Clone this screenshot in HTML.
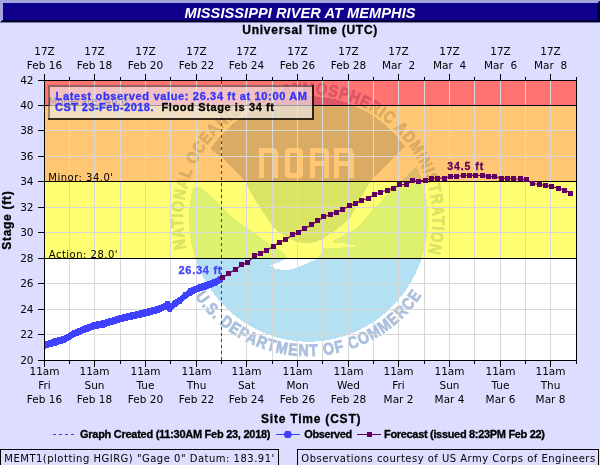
<!DOCTYPE html>
<html><head><meta charset="utf-8"><title>Mississippi River at Memphis</title>
<style>
html,body{margin:0;padding:0;background:#ddddff;}
body{width:600px;height:465px;overflow:hidden;position:relative;}
svg{position:absolute;left:0;top:0;display:block}
.b{font-family:"Liberation Sans",Arial,sans-serif;font-weight:bold;}
.v{font-family:"DejaVu Sans",Verdana,sans-serif;font-size:10.5px;fill:#000;}
</style></head><body>
<svg width="600" height="465" viewBox="0 0 600 465" shape-rendering="crispEdges">

<rect x="0" y="22" width="600" height="1" fill="#7a7aa8"/>
<rect x="0" y="0" width="600" height="22" fill="#000033"/>
<polygon points="0,0 600,0 597,3 3,3 3,20 0,22" fill="#a4a4dc"/>
<rect x="3" y="3" width="594" height="17" fill="#10008c"/>
<text x="184.5" y="17.5" class="b" textLength="231" lengthAdjust="spacing" style="font-style:italic;font-size:14.6px;fill:#fff">MISSISSIPPI RIVER AT MEMPHIS</text>
<text x="242.3" y="33.5" class="b" textLength="135" lengthAdjust="spacing" style="font-size:12px;fill:#000;stroke:#000;stroke-width:0.3">Universal Time (UTC)</text>
<defs><clipPath id="pc"><rect x="45" y="81" width="531" height="279"/></clipPath></defs>
<g clip-path="url(#pc)">
<rect x="45" y="81" width="531" height="279" fill="#fff"/>
<g shape-rendering="crispEdges"><path d="M 192.87,188 L 200.0,186.5 L 211.8,196.7 L 223.6,208.5 L 235.0,219.7 L 250.0,230.0 L 262.0,238.5 L 272.0,245.5 L 280.0,250.0 L 285.0,254.0 L 287.0,258.0 L 280.0,261.5 L 270.0,265.5 L 276.0,268.8 L 284.0,270.4 L 292.0,269.2 L 302.0,265.6 L 311.0,261.6 L 317.0,259.0 L 321.0,254.0 L 323.0,248.5 L 330.0,248.3 L 340.0,247.6 L 358.0,246.3 L 345.0,243.5 L 331.0,242.3 L 334.0,240.3 L 343.3,235.0 L 356.7,228.3 L 370.2,212.7 L 382.3,200.7 L 392.6,185.0 L 402.0,180.5 L 416.3,166.0 A 119.5 122.76001705029837 0 1 1 192.87,188 Z" fill="rgb(180,224,244)"/><mask id="nm"><rect x="0" y="0" width="600" height="465" fill="#fff"/><path d="M259,178 V148 H273 Q278,148 278,153 V178 H273 V153 H264 V178 Z M284.5,153 Q284.5,148 289.5,148 H298 Q303,148 303,153 V173 Q303,178 298,178 H289.5 Q284.5,178 284.5,173 Z M289.5,153 V173 H298 V153 Z M309.5,178 V148 H324 Q329,148 329,153 V178 H324 V166 H314.5 V178 Z M314.5,153 V161 H324 V153 Z M334,178 V148 H348.5 Q353.5,148 353.5,153 V178 H348.5 V166 H339 V178 Z M339,153 V161 H348.5 V153 Z" fill="#000"/></mask><path d="M 210.33,149 L 223.6,158.9 L 235.5,170.7 L 245.0,181.5 L 254.4,199.0 L 263.8,213.3 L 273.3,227.5 L 283.0,235.0 L 290.0,239.0 L 297.0,241.8 L 303.3,243.0 L 310.0,243.0 L 316.7,241.7 L 324.0,238.5 L 330.0,233.7 L 337.0,229.5 L 343.3,224.3 L 350.0,217.7 L 355.5,208.0 L 361.6,197.2 L 370.2,181.7 L 380.0,172.0 L 392.0,159.0 L 405.0,146.6 A 119.5 122.76001705029837 0 0 0 210.33,149 Z" fill="rgb(172,192,222)" mask="url(#nm)"/></g>
<path id="rtop" d="M 186.44,248.52 A 124.9 124.9 0 1 1 425.28,261.73" fill="none"/>
<path id="rbot" d="M 194.79,296.39 A 136.9 136.9 0 0 0 427.13,286.39" fill="none"/>
<g shape-rendering="auto" style="fill:rgb(172,192,222);stroke:rgb(172,192,222);stroke-width:0.8">
<text class="b" style="font-size:16.8px;letter-spacing:1.2px"><textPath href="#rtop" textLength="456.7" lengthAdjust="spacingAndGlyphs">NATIONAL OCEANIC AND ATMOSPHERIC ADMINISTRATION</textPath></text>
<text class="b" style="font-size:16.8px;letter-spacing:1.2px"><textPath href="#rbot" textLength="268.3" lengthAdjust="spacingAndGlyphs">U.S. DEPARTMENT OF COMMERCE</textPath></text>
</g>
<rect x="45" y="81" width="531" height="24" fill="#ff0000" fill-opacity="0.55"/>
<rect x="45" y="106" width="531" height="75" fill="#ff9900" fill-opacity="0.55"/>
<rect x="45" y="182" width="531" height="76" fill="#ffff00" fill-opacity="0.55"/>
</g>
<rect x="69" y="81" width="1" height="279" fill="#d8d8d8"/>
<rect x="94" y="81" width="1" height="279" fill="#d8d8d8"/>
<rect x="120" y="81" width="1" height="279" fill="#d8d8d8"/>
<rect x="145" y="81" width="1" height="279" fill="#d8d8d8"/>
<rect x="170" y="81" width="1" height="279" fill="#d8d8d8"/>
<rect x="196" y="81" width="1" height="279" fill="#d8d8d8"/>
<rect x="221" y="81" width="1" height="279" fill="#d8d8d8"/>
<rect x="246" y="81" width="1" height="279" fill="#d8d8d8"/>
<rect x="272" y="81" width="1" height="279" fill="#d8d8d8"/>
<rect x="297" y="81" width="1" height="279" fill="#d8d8d8"/>
<rect x="322" y="81" width="1" height="279" fill="#d8d8d8"/>
<rect x="348" y="81" width="1" height="279" fill="#d8d8d8"/>
<rect x="373" y="81" width="1" height="279" fill="#d8d8d8"/>
<rect x="398" y="81" width="1" height="279" fill="#d8d8d8"/>
<rect x="424" y="81" width="1" height="279" fill="#d8d8d8"/>
<rect x="449" y="81" width="1" height="279" fill="#d8d8d8"/>
<rect x="474" y="81" width="1" height="279" fill="#d8d8d8"/>
<rect x="500" y="81" width="1" height="279" fill="#d8d8d8"/>
<rect x="525" y="81" width="1" height="279" fill="#d8d8d8"/>
<rect x="550" y="81" width="1" height="279" fill="#d8d8d8"/>
<rect x="45" y="334" width="531" height="1" fill="#d8d8d8"/>
<rect x="45" y="309" width="531" height="1" fill="#d8d8d8"/>
<rect x="45" y="283" width="531" height="1" fill="#d8d8d8"/>
<rect x="45" y="232" width="531" height="1" fill="#d8d8d8"/>
<rect x="45" y="207" width="531" height="1" fill="#d8d8d8"/>
<rect x="45" y="156" width="531" height="1" fill="#d8d8d8"/>
<rect x="45" y="130" width="531" height="1" fill="#d8d8d8"/>
<rect x="44" y="105" width="532" height="1" fill="#000"/>
<rect x="44" y="181" width="532" height="1" fill="#000"/>
<rect x="44" y="258" width="532" height="1" fill="#000"/>
<text x="48.5" y="105" class="v" textLength="82" lengthAdjust="spacing" style="fill:#000;font-size:10px">Moderate:  40.0'</text>
<text x="48.3" y="181" class="v" textLength="64.8" lengthAdjust="spacing" style="fill:#000;font-size:10px">Minor:  34.0'</text>
<text x="48.8" y="258" class="v" textLength="68.8" lengthAdjust="spacing" style="fill:#000;font-size:10px">Action:  28.0'</text>
<line x1="221.5" y1="81" x2="221.5" y2="360" stroke="#3030ff" stroke-width="1" stroke-dasharray="3 3"/>
<polygon points="44.50,341.50 55.20,338.10 64.10,335.60 74.20,329.80 84.20,325.50 94.30,321.90 103.20,320.10 110.00,318.00 120.00,315.00 130.00,312.50 140.00,310.30 150.00,307.80 160.00,305.00 165.00,302.30 167.50,300.80 170.00,304.50 175.00,299.80 180.00,296.30 185.00,292.00 190.00,288.20 195.00,285.70 200.00,284.00 205.00,282.30 210.00,280.50 215.00,278.30 220.30,275.80 220.30,283.40 215.00,285.90 210.00,288.10 205.00,289.90 200.00,291.60 195.00,293.30 190.00,295.80 185.00,299.60 180.00,303.90 175.00,307.40 170.00,312.10 167.50,308.40 165.00,309.90 160.00,312.60 150.00,315.40 140.00,317.90 130.00,320.10 120.00,322.60 110.00,325.60 103.20,327.70 94.30,329.50 84.20,333.10 74.20,337.40 64.10,343.20 55.20,345.70 44.50,349.10" fill="#4040ff" shape-rendering="crispEdges"/>
<polygon points="53.40,338.30 57.00,338.30 58.80,341.90 57.00,345.50 53.40,345.50 51.60,341.90" fill="#4040ff" shape-rendering="crispEdges"/>
<polygon points="62.30,335.80 65.90,335.80 67.70,339.40 65.90,343.00 62.30,343.00 60.50,339.40" fill="#4040ff" shape-rendering="crispEdges"/>
<polygon points="72.40,330.00 76.00,330.00 77.80,333.60 76.00,337.20 72.40,337.20 70.60,333.60" fill="#4040ff" shape-rendering="crispEdges"/>
<polygon points="82.40,325.70 86.00,325.70 87.80,329.30 86.00,332.90 82.40,332.90 80.60,329.30" fill="#4040ff" shape-rendering="crispEdges"/>
<polygon points="92.50,322.10 96.10,322.10 97.90,325.70 96.10,329.30 92.50,329.30 90.70,325.70" fill="#4040ff" shape-rendering="crispEdges"/>
<polygon points="101.40,320.30 105.00,320.30 106.80,323.90 105.00,327.50 101.40,327.50 99.60,323.90" fill="#4040ff" shape-rendering="crispEdges"/>
<polygon points="108.20,318.20 111.80,318.20 113.60,321.80 111.80,325.40 108.20,325.40 106.40,321.80" fill="#4040ff" shape-rendering="crispEdges"/>
<polygon points="118.20,315.20 121.80,315.20 123.60,318.80 121.80,322.40 118.20,322.40 116.40,318.80" fill="#4040ff" shape-rendering="crispEdges"/>
<polygon points="128.20,312.70 131.80,312.70 133.60,316.30 131.80,319.90 128.20,319.90 126.40,316.30" fill="#4040ff" shape-rendering="crispEdges"/>
<polygon points="138.20,310.50 141.80,310.50 143.60,314.10 141.80,317.70 138.20,317.70 136.40,314.10" fill="#4040ff" shape-rendering="crispEdges"/>
<polygon points="148.20,308.00 151.80,308.00 153.60,311.60 151.80,315.20 148.20,315.20 146.40,311.60" fill="#4040ff" shape-rendering="crispEdges"/>
<polygon points="158.20,305.20 161.80,305.20 163.60,308.80 161.80,312.40 158.20,312.40 156.40,308.80" fill="#4040ff" shape-rendering="crispEdges"/>
<polygon points="163.20,302.50 166.80,302.50 168.60,306.10 166.80,309.70 163.20,309.70 161.40,306.10" fill="#4040ff" shape-rendering="crispEdges"/>
<polygon points="165.70,301.00 169.30,301.00 171.10,304.60 169.30,308.20 165.70,308.20 163.90,304.60" fill="#4040ff" shape-rendering="crispEdges"/>
<polygon points="168.20,304.70 171.80,304.70 173.60,308.30 171.80,311.90 168.20,311.90 166.40,308.30" fill="#4040ff" shape-rendering="crispEdges"/>
<polygon points="173.20,300.00 176.80,300.00 178.60,303.60 176.80,307.20 173.20,307.20 171.40,303.60" fill="#4040ff" shape-rendering="crispEdges"/>
<polygon points="178.20,296.50 181.80,296.50 183.60,300.10 181.80,303.70 178.20,303.70 176.40,300.10" fill="#4040ff" shape-rendering="crispEdges"/>
<polygon points="183.20,292.20 186.80,292.20 188.60,295.80 186.80,299.40 183.20,299.40 181.40,295.80" fill="#4040ff" shape-rendering="crispEdges"/>
<polygon points="188.20,288.40 191.80,288.40 193.60,292.00 191.80,295.60 188.20,295.60 186.40,292.00" fill="#4040ff" shape-rendering="crispEdges"/>
<polygon points="193.20,285.90 196.80,285.90 198.60,289.50 196.80,293.10 193.20,293.10 191.40,289.50" fill="#4040ff" shape-rendering="crispEdges"/>
<polygon points="198.20,284.20 201.80,284.20 203.60,287.80 201.80,291.40 198.20,291.40 196.40,287.80" fill="#4040ff" shape-rendering="crispEdges"/>
<polygon points="203.20,282.50 206.80,282.50 208.60,286.10 206.80,289.70 203.20,289.70 201.40,286.10" fill="#4040ff" shape-rendering="crispEdges"/>
<polygon points="208.20,280.70 211.80,280.70 213.60,284.30 211.80,287.90 208.20,287.90 206.40,284.30" fill="#4040ff" shape-rendering="crispEdges"/>
<polygon points="213.20,278.50 216.80,278.50 218.60,282.10 216.80,285.70 213.20,285.70 211.40,282.10" fill="#4040ff" shape-rendering="crispEdges"/>
<polygon points="218.50,276.00 222.10,276.00 223.90,279.60 222.10,283.20 218.50,283.20 216.70,279.60" fill="#4040ff" shape-rendering="crispEdges"/>
<polyline points="222.89,277.50 229.22,273.30 235.56,269.20 241.89,265.00 248.22,262.00 254.56,255.80 260.89,253.30 267.22,250.00 273.56,246.20 279.89,242.00 286.22,239.20 292.56,235.00 298.89,232.00 305.22,228.30 311.56,225.00 317.89,220.80 324.22,217.00 330.56,214.20 336.89,212.00 343.22,209.20 349.56,205.80 355.89,203.30 362.22,200.30 368.56,198.30 374.89,194.20 381.22,192.00 387.56,190.00 393.89,188.00 400.22,185.00 406.56,184.20 412.89,180.80 419.22,181.20 425.56,180.00 431.89,178.70 438.22,178.00 444.56,178.30 450.89,176.30 457.22,176.30 463.56,175.30 469.89,175.30 476.22,175.30 482.56,175.30 488.89,176.60 495.22,176.60 501.56,178.40 507.89,178.40 514.22,179.00 520.56,179.00 526.89,179.90 533.22,183.60 539.56,184.50 545.89,185.40 552.22,186.70 558.56,188.50 564.89,190.00 571.22,193.50" fill="none" stroke="#620062" stroke-width="1.2" shape-rendering="auto"/>
<rect x="220" y="275" width="5" height="5" fill="#620062"/>
<rect x="226" y="271" width="5" height="5" fill="#620062"/>
<rect x="233" y="267" width="5" height="5" fill="#620062"/>
<rect x="239" y="262" width="5" height="5" fill="#620062"/>
<rect x="245" y="260" width="5" height="5" fill="#620062"/>
<rect x="252" y="253" width="5" height="5" fill="#620062"/>
<rect x="258" y="251" width="5" height="5" fill="#620062"/>
<rect x="264" y="248" width="5" height="5" fill="#620062"/>
<rect x="271" y="244" width="5" height="5" fill="#620062"/>
<rect x="277" y="240" width="5" height="5" fill="#620062"/>
<rect x="283" y="237" width="5" height="5" fill="#620062"/>
<rect x="290" y="232" width="5" height="5" fill="#620062"/>
<rect x="296" y="230" width="5" height="5" fill="#620062"/>
<rect x="302" y="226" width="5" height="5" fill="#620062"/>
<rect x="309" y="222" width="5" height="5" fill="#620062"/>
<rect x="315" y="218" width="5" height="5" fill="#620062"/>
<rect x="321" y="214" width="5" height="5" fill="#620062"/>
<rect x="328" y="212" width="5" height="5" fill="#620062"/>
<rect x="334" y="210" width="5" height="5" fill="#620062"/>
<rect x="340" y="207" width="5" height="5" fill="#620062"/>
<rect x="347" y="203" width="5" height="5" fill="#620062"/>
<rect x="353" y="201" width="5" height="5" fill="#620062"/>
<rect x="359" y="198" width="5" height="5" fill="#620062"/>
<rect x="366" y="196" width="5" height="5" fill="#620062"/>
<rect x="372" y="192" width="5" height="5" fill="#620062"/>
<rect x="378" y="190" width="5" height="5" fill="#620062"/>
<rect x="385" y="188" width="5" height="5" fill="#620062"/>
<rect x="391" y="186" width="5" height="5" fill="#620062"/>
<rect x="397" y="182" width="5" height="5" fill="#620062"/>
<rect x="404" y="182" width="5" height="5" fill="#620062"/>
<rect x="410" y="178" width="5" height="5" fill="#620062"/>
<rect x="416" y="179" width="5" height="5" fill="#620062"/>
<rect x="423" y="178" width="5" height="5" fill="#620062"/>
<rect x="429" y="176" width="5" height="5" fill="#620062"/>
<rect x="435" y="176" width="5" height="5" fill="#620062"/>
<rect x="442" y="176" width="5" height="5" fill="#620062"/>
<rect x="448" y="174" width="5" height="5" fill="#620062"/>
<rect x="454" y="174" width="5" height="5" fill="#620062"/>
<rect x="461" y="173" width="5" height="5" fill="#620062"/>
<rect x="467" y="173" width="5" height="5" fill="#620062"/>
<rect x="473" y="173" width="5" height="5" fill="#620062"/>
<rect x="480" y="173" width="5" height="5" fill="#620062"/>
<rect x="486" y="174" width="5" height="5" fill="#620062"/>
<rect x="492" y="174" width="5" height="5" fill="#620062"/>
<rect x="499" y="176" width="5" height="5" fill="#620062"/>
<rect x="505" y="176" width="5" height="5" fill="#620062"/>
<rect x="511" y="176" width="5" height="5" fill="#620062"/>
<rect x="518" y="176" width="5" height="5" fill="#620062"/>
<rect x="524" y="177" width="5" height="5" fill="#620062"/>
<rect x="530" y="181" width="5" height="5" fill="#620062"/>
<rect x="537" y="182" width="5" height="5" fill="#620062"/>
<rect x="543" y="183" width="5" height="5" fill="#620062"/>
<rect x="549" y="184" width="5" height="5" fill="#620062"/>
<rect x="556" y="186" width="5" height="5" fill="#620062"/>
<rect x="562" y="188" width="5" height="5" fill="#620062"/>
<rect x="568" y="191" width="5" height="5" fill="#620062"/>
<text x="178.5" y="273.8" class="b" textLength="43" lengthAdjust="spacing" style="font-size:11px;fill:#4444ff;stroke:#4444ff;stroke-width:0.3">26.34 ft</text>
<text x="447.2" y="169.5" class="b" textLength="36" lengthAdjust="spacing" style="font-size:10.5px;fill:#620062;stroke:#620062;stroke-width:0.3">34.5 ft</text>
<rect x="50" y="87" width="262" height="31" fill="#ececec" fill-opacity="0.66"/>
<path d="M48,85 H312 V87 H50 V118 H48 Z" fill="#505050" fill-opacity="0.55"/>
<path d="M312,85 H314 V120 H48 V118 H312 Z" fill="#000" fill-opacity="0.78"/>
<text x="55.5" y="99.6" class="b" textLength="251.5" lengthAdjust="spacing" style="font-size:11px;fill:#3333ff;stroke:#3333ff;stroke-width:0.3">Latest observed value: 26.34 ft at 10:00 AM</text>
<text x="55" y="110.5" class="b" textLength="98.5" lengthAdjust="spacing" style="font-size:11px;fill:#3333ff;stroke:#3333ff;stroke-width:0.3">CST 23-Feb-2018.</text>
<text x="161.5" y="110.5" class="b" textLength="112.5" lengthAdjust="spacing" style="font-size:11px;fill:#000;stroke:#000;stroke-width:0.3">Flood Stage is 34 ft</text>
<rect x="44" y="80" width="1" height="281" fill="#000"/>
<rect x="576" y="80" width="1" height="281" fill="#000"/>
<rect x="44" y="80" width="533" height="1" fill="#000"/>
<rect x="44" y="360" width="533" height="1" fill="#000"/>
<rect x="44" y="74" width="1" height="6" fill="#000"/>
<rect x="44" y="361" width="1" height="6" fill="#000"/>
<rect x="69" y="77" width="1" height="3" fill="#000"/>
<rect x="69" y="361" width="1" height="3" fill="#000"/>
<rect x="94" y="74" width="1" height="6" fill="#000"/>
<rect x="94" y="361" width="1" height="6" fill="#000"/>
<rect x="120" y="77" width="1" height="3" fill="#000"/>
<rect x="120" y="361" width="1" height="3" fill="#000"/>
<rect x="145" y="74" width="1" height="6" fill="#000"/>
<rect x="145" y="361" width="1" height="6" fill="#000"/>
<rect x="170" y="77" width="1" height="3" fill="#000"/>
<rect x="170" y="361" width="1" height="3" fill="#000"/>
<rect x="196" y="74" width="1" height="6" fill="#000"/>
<rect x="196" y="361" width="1" height="6" fill="#000"/>
<rect x="221" y="77" width="1" height="3" fill="#000"/>
<rect x="221" y="361" width="1" height="3" fill="#000"/>
<rect x="246" y="74" width="1" height="6" fill="#000"/>
<rect x="246" y="361" width="1" height="6" fill="#000"/>
<rect x="272" y="77" width="1" height="3" fill="#000"/>
<rect x="272" y="361" width="1" height="3" fill="#000"/>
<rect x="297" y="74" width="1" height="6" fill="#000"/>
<rect x="297" y="361" width="1" height="6" fill="#000"/>
<rect x="322" y="77" width="1" height="3" fill="#000"/>
<rect x="322" y="361" width="1" height="3" fill="#000"/>
<rect x="348" y="74" width="1" height="6" fill="#000"/>
<rect x="348" y="361" width="1" height="6" fill="#000"/>
<rect x="373" y="77" width="1" height="3" fill="#000"/>
<rect x="373" y="361" width="1" height="3" fill="#000"/>
<rect x="398" y="74" width="1" height="6" fill="#000"/>
<rect x="398" y="361" width="1" height="6" fill="#000"/>
<rect x="424" y="77" width="1" height="3" fill="#000"/>
<rect x="424" y="361" width="1" height="3" fill="#000"/>
<rect x="449" y="74" width="1" height="6" fill="#000"/>
<rect x="449" y="361" width="1" height="6" fill="#000"/>
<rect x="474" y="77" width="1" height="3" fill="#000"/>
<rect x="474" y="361" width="1" height="3" fill="#000"/>
<rect x="500" y="74" width="1" height="6" fill="#000"/>
<rect x="500" y="361" width="1" height="6" fill="#000"/>
<rect x="525" y="77" width="1" height="3" fill="#000"/>
<rect x="525" y="361" width="1" height="3" fill="#000"/>
<rect x="550" y="74" width="1" height="6" fill="#000"/>
<rect x="550" y="361" width="1" height="6" fill="#000"/>
<rect x="576" y="77" width="1" height="3" fill="#000"/>
<rect x="576" y="361" width="1" height="3" fill="#000"/>
<rect x="38" y="360" width="6" height="1" fill="#000"/>
<text x="33.5" y="364" class="v" text-anchor="end">20</text>
<rect x="38" y="334" width="6" height="1" fill="#000"/>
<text x="33.5" y="338" class="v" text-anchor="end">22</text>
<rect x="38" y="309" width="6" height="1" fill="#000"/>
<text x="33.5" y="313" class="v" text-anchor="end">24</text>
<rect x="38" y="283" width="6" height="1" fill="#000"/>
<text x="33.5" y="287" class="v" text-anchor="end">26</text>
<rect x="38" y="258" width="6" height="1" fill="#000"/>
<text x="33.5" y="262" class="v" text-anchor="end">28</text>
<rect x="38" y="232" width="6" height="1" fill="#000"/>
<text x="33.5" y="236" class="v" text-anchor="end">30</text>
<rect x="38" y="207" width="6" height="1" fill="#000"/>
<text x="33.5" y="211" class="v" text-anchor="end">32</text>
<rect x="38" y="181" width="6" height="1" fill="#000"/>
<text x="33.5" y="185" class="v" text-anchor="end">34</text>
<rect x="38" y="156" width="6" height="1" fill="#000"/>
<text x="33.5" y="160" class="v" text-anchor="end">36</text>
<rect x="38" y="130" width="6" height="1" fill="#000"/>
<text x="33.5" y="134" class="v" text-anchor="end">38</text>
<rect x="38" y="105" width="6" height="1" fill="#000"/>
<text x="33.5" y="109" class="v" text-anchor="end">40</text>
<rect x="38" y="80" width="6" height="1" fill="#000"/>
<text x="33.5" y="84" class="v" text-anchor="end">42</text>
<text x="44.5" y="54.7" class="v" text-anchor="middle">17Z</text>
<text x="44.5" y="68.7" class="v" text-anchor="middle">Feb 16</text>
<text x="44.5" y="374.7" class="v" text-anchor="middle">11am</text>
<text x="44.5" y="388.8" class="v" text-anchor="middle">Fri</text>
<text x="44.5" y="403.2" class="v" text-anchor="middle">Feb 16</text>
<text x="94.5" y="54.7" class="v" text-anchor="middle">17Z</text>
<text x="94.5" y="68.7" class="v" text-anchor="middle">Feb 18</text>
<text x="94.5" y="374.7" class="v" text-anchor="middle">11am</text>
<text x="94.5" y="388.8" class="v" text-anchor="middle">Sun</text>
<text x="94.5" y="403.2" class="v" text-anchor="middle">Feb 18</text>
<text x="145.5" y="54.7" class="v" text-anchor="middle">17Z</text>
<text x="145.5" y="68.7" class="v" text-anchor="middle">Feb 20</text>
<text x="145.5" y="374.7" class="v" text-anchor="middle">11am</text>
<text x="145.5" y="388.8" class="v" text-anchor="middle">Tue</text>
<text x="145.5" y="403.2" class="v" text-anchor="middle">Feb 20</text>
<text x="196.5" y="54.7" class="v" text-anchor="middle">17Z</text>
<text x="196.5" y="68.7" class="v" text-anchor="middle">Feb 22</text>
<text x="196.5" y="374.7" class="v" text-anchor="middle">11am</text>
<text x="196.5" y="388.8" class="v" text-anchor="middle">Thu</text>
<text x="196.5" y="403.2" class="v" text-anchor="middle">Feb 22</text>
<text x="246.5" y="54.7" class="v" text-anchor="middle">17Z</text>
<text x="246.5" y="68.7" class="v" text-anchor="middle">Feb 24</text>
<text x="246.5" y="374.7" class="v" text-anchor="middle">11am</text>
<text x="246.5" y="388.8" class="v" text-anchor="middle">Sat</text>
<text x="246.5" y="403.2" class="v" text-anchor="middle">Feb 24</text>
<text x="297.5" y="54.7" class="v" text-anchor="middle">17Z</text>
<text x="297.5" y="68.7" class="v" text-anchor="middle">Feb 26</text>
<text x="297.5" y="374.7" class="v" text-anchor="middle">11am</text>
<text x="297.5" y="388.8" class="v" text-anchor="middle">Mon</text>
<text x="297.5" y="403.2" class="v" text-anchor="middle">Feb 26</text>
<text x="348.5" y="54.7" class="v" text-anchor="middle">17Z</text>
<text x="348.5" y="68.7" class="v" text-anchor="middle">Feb 28</text>
<text x="348.5" y="374.7" class="v" text-anchor="middle">11am</text>
<text x="348.5" y="388.8" class="v" text-anchor="middle">Wed</text>
<text x="348.5" y="403.2" class="v" text-anchor="middle">Feb 28</text>
<text x="398.5" y="54.7" class="v" text-anchor="middle">17Z</text>
<text x="398.5" y="68.7" class="v" text-anchor="middle">Mar  2</text>
<text x="398.5" y="374.7" class="v" text-anchor="middle">11am</text>
<text x="398.5" y="388.8" class="v" text-anchor="middle">Fri</text>
<text x="398.5" y="403.2" class="v" text-anchor="middle">Mar 2</text>
<text x="449.5" y="54.7" class="v" text-anchor="middle">17Z</text>
<text x="449.5" y="68.7" class="v" text-anchor="middle">Mar  4</text>
<text x="449.5" y="374.7" class="v" text-anchor="middle">11am</text>
<text x="449.5" y="388.8" class="v" text-anchor="middle">Sun</text>
<text x="449.5" y="403.2" class="v" text-anchor="middle">Mar 4</text>
<text x="500.5" y="54.7" class="v" text-anchor="middle">17Z</text>
<text x="500.5" y="68.7" class="v" text-anchor="middle">Mar  6</text>
<text x="500.5" y="374.7" class="v" text-anchor="middle">11am</text>
<text x="500.5" y="388.8" class="v" text-anchor="middle">Tue</text>
<text x="500.5" y="403.2" class="v" text-anchor="middle">Mar 6</text>
<text x="550.5" y="54.7" class="v" text-anchor="middle">17Z</text>
<text x="550.5" y="68.7" class="v" text-anchor="middle">Mar  8</text>
<text x="550.5" y="374.7" class="v" text-anchor="middle">11am</text>
<text x="550.5" y="388.8" class="v" text-anchor="middle">Thu</text>
<text x="550.5" y="403.2" class="v" text-anchor="middle">Mar 8</text>
<text x="261" y="422.9" class="b" textLength="99.5" lengthAdjust="spacing" style="font-size:12px;stroke:#000;stroke-width:0.3">Site Time (CST)</text>
<text transform="translate(11.3 249.8) rotate(-90)" class="b" style="font-size:12px;stroke:#000;stroke-width:0.3" textLength="58.5" lengthAdjust="spacing">Stage (ft)</text>
<line x1="53" y1="434.5" x2="75" y2="434.5" stroke="#4040ff" stroke-width="1" stroke-dasharray="3 3"/>
<text x="80" y="438" class="b" textLength="190.5" lengthAdjust="spacing" style="font-size:11px;stroke:#000;stroke-width:0.3">Graph Created (11:30AM Feb 23, 2018)</text>
<rect x="276" y="434" width="24" height="1" fill="#4040ff"/>
<polygon points="285.3,431 290.3,431 292,434.5 290.3,438 285.3,438 283.6,434.5" fill="#4040ff" shape-rendering="auto"/>
<text x="304.3" y="438" class="b" textLength="48" lengthAdjust="spacing" style="font-size:11px;stroke:#000;stroke-width:0.3">Observed</text>
<rect x="357" y="434" width="24" height="1" fill="#620062"/>
<rect x="366.5" y="432" width="5" height="5" fill="#620062"/>
<text x="384" y="438" class="b" textLength="161" lengthAdjust="spacing" style="font-size:11px;stroke:#000;stroke-width:0.3">Forecast (issued 8:23PM Feb 22)</text>
<rect x="0.5" y="449.5" width="278" height="20" fill="none" stroke="#000" stroke-width="1"/>
<text x="4.3" y="462.2" class="v" textLength="270" lengthAdjust="spacing" style="font-size:10px">MEMT1(plotting HGIRG) "Gage 0" Datum: 183.91'</text>
<rect x="297.5" y="449.5" width="301" height="20" fill="none" stroke="#000" stroke-width="1"/>
<text x="301.3" y="462.2" class="v" textLength="293.8" lengthAdjust="spacing" style="font-size:10px">Observations courtesy of US Army Corps of Engineers</text>
</svg></body></html>
